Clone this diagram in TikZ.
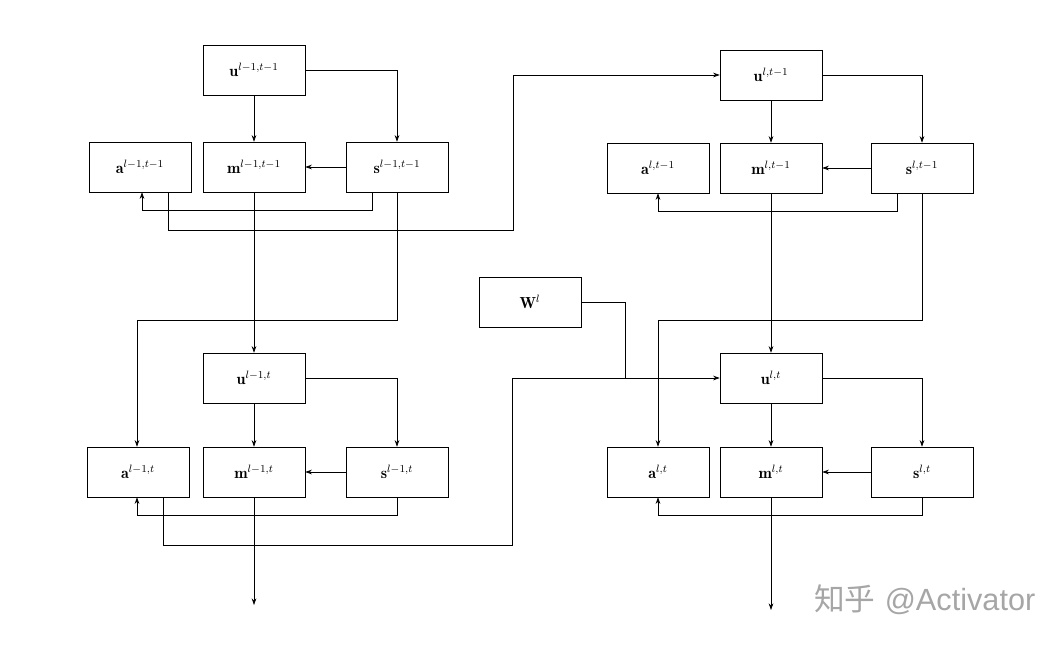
\documentclass[tikz,border=0pt]{standalone}
\usepackage{fontspec}
\newfontfamily\cjk{Noto Sans CJK SC}
\newfontfamily\wsans{Liberation Sans}
\usetikzlibrary{arrows.meta}
\begin{document}
\begin{tikzpicture}[x=0.75pt,y=-0.75pt,
 bx/.style={draw,minimum width=76.5pt,minimum height=37.5pt,inner sep=0pt,font=\large},
 ar/.style={-{Stealth[length=5pt,width=3.5pt]},line width=0.5pt},
 ln/.style={line width=0.5pt}]
\useasboundingbox (0,0) rectangle (1064,644);
% left group
\node[bx] (u1) at (254,70) {$\mathbf{u}^{l-1,t-1}$};
\node[bx] (a1) at (140,167) {$\mathbf{a}^{l-1,t-1}$};
\node[bx] (m1) at (254,167) {$\mathbf{m}^{l-1,t-1}$};
\node[bx] (s1) at (397,167) {$\mathbf{s}^{l-1,t-1}$};
\node[bx] (u2) at (254,378) {$\mathbf{u}^{l-1,t}$};
\node[bx] (a2) at (138,472) {$\mathbf{a}^{l-1,t}$};
\node[bx] (m2) at (254,472) {$\mathbf{m}^{l-1,t}$};
\node[bx] (s2) at (397,472) {$\mathbf{s}^{l-1,t}$};
% right group
\node[bx] (u3) at (771,75) {$\mathbf{u}^{l,t-1}$};
\node[bx] (a3) at (658,168) {$\mathbf{a}^{l,t-1}$};
\node[bx] (m3) at (771,168) {$\mathbf{m}^{l,t-1}$};
\node[bx] (s3) at (922,168) {$\mathbf{s}^{l,t-1}$};
\node[bx] (w) at (530,302) {$\mathbf{W}^{l}$};
\node[bx] (u4) at (771,378) {$\mathbf{u}^{l,t}$};
\node[bx] (a4) at (658,472) {$\mathbf{a}^{l,t}$};
\node[bx] (m4) at (771,472) {$\mathbf{m}^{l,t}$};
\node[bx] (s4) at (922,472) {$\mathbf{s}^{l,t}$};
\coordinate (e1) at (254,605);
\coordinate (e2) at (771,610);
% left top
\draw[ar] (u1.east) -| (s1.north);
\draw[ar] (u1) -- (m1);
\draw[ar] (s1) -- (m1);
\draw[ar] (s1.south -| 372,0) -- (372,210) -| (a1.south -| 142,0);
\draw[ar] (a1.south -| 168,0) -- (168,230) -- (513,230) |- (u3.west);
\draw[ar] (m1) -- (u2);
\draw[ar] (s1.south) -- (397,320) -- (137,320) -- (a2.north -| 137,0);
% left bottom
\draw[ar] (u2.east) -| (s2.north);
\draw[ar] (u2) -- (m2);
\draw[ar] (s2) -- (m2);
\draw[ar] (s2.south) -- (397,515) -- (137,515) -- (a2.south -| 137,0);
\draw[ar] (a2.south -| 163,0) -- (163,545) -- (512,545) |- (u4.west);
\draw[ar] (m2) -- (e1);
% right top
\draw[ar] (u3.east) -| (s3.north);
\draw[ar] (u3) -- (m3);
\draw[ar] (s3) -- (m3);
\draw[ar] (s3.south -| 897,0) -- (897,211) -| (a3.south);
\draw[ar] (m3) -- (u4);
\draw[ar] (s3.south) -- (922,320) -| (a4.north);
\draw[ln] (w.east) -- (625,302) -- (625,378);
% right bottom
\draw[ar] (u4.east) -| (s4.north);
\draw[ar] (u4) -- (m4);
\draw[ar] (s4) -- (m4);
\draw[ar] (s4.south) -- (922,515) -| (a4.south);
\draw[ar] (m4) -- (e2);
\node[text=gray!70, font=\fontsize{23}{25}\selectfont, anchor=east] (wm) at (1040,600) {{\cjk 知乎} {\wsans @Activator}};
\end{tikzpicture}
\end{document}
